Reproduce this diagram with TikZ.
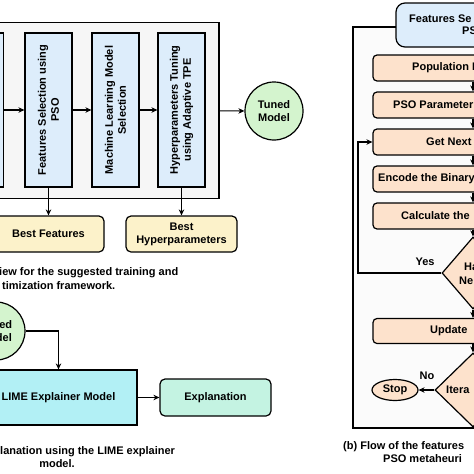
\documentclass[tikz,border=0pt]{standalone}
\usepackage{fontspec}
\setmainfont{Liberation Sans}
\usepackage{tikz}
\usetikzlibrary{arrows.meta,positioning,shapes.geometric,calc}
\definecolor{stageblue}{RGB}{221,237,251}
\definecolor{panelgray}{RGB}{246,246,246}
\definecolor{resultyellow}{RGB}{252,242,202}
\definecolor{modelgreen}{RGB}{212,244,206}
\definecolor{limecyan}{RGB}{178,240,245}
\definecolor{mintgreen}{RGB}{196,243,226}
\definecolor{stepbrown}{RGB}{253,226,204}

\begin{document}
\begin{tikzpicture}[x=1pt,y=-1pt,
  every node/.style={font=\fontsize{11}{13}\selectfont\bfseries},
  arr/.style={-{Stealth[length=6pt,width=5.5pt]}, line width=1.1pt},
  panel/.style={draw, line width=1.2pt, fill=panelgray, inner sep=0pt},
  stage/.style={draw, line width=1.2pt, fill=stageblue, rotate=90, align=center,
    inner sep=0pt, minimum width=154pt, minimum height=47pt},
  result/.style={draw, line width=1.2pt, fill=resultyellow, rounded corners=5pt,
    align=center, inner sep=0pt, minimum height=36pt},
  model/.style={circle, draw, line width=1.2pt, fill=modelgreen, align=center,
    inner sep=0pt, minimum size=58pt},
  stepbox/.style={draw, line width=1.2pt, fill=stepbrown, rounded corners=4pt,
    inner sep=0pt, minimum width=200pt, minimum height=26pt},
  decision/.style={diamond, draw, line width=1.2pt, fill=stepbrown, inner sep=0pt},
  frag/.style={anchor=west, inner sep=0pt}]
\useasboundingbox (0,0) rectangle (474,474);
\clip (0,0) rectangle (474,474);

% (a) training and optimization
\node[panel, minimum width=229pt, minimum height=176pt] (frameA) at (104.5,110.75) {};
\node[stage] (prep) at (-20,110) {};
\node[stage] (fsel) at (48.5,110) {Features Selection using\\PSO};
\node[stage] (mlsel) at (115.5,110) {Machine Learning Model\\Selection};
\node[stage] (hptune) at (181.5,110) {Hyperparameters Tuning\\using Adaptive TPE};
\node[model] (tuned) at (274,111) {Tuned\\Model};
\node[result, minimum width=111pt] (bestfeat) at (48.5,234) {Best Features};
\node[result, minimum width=111pt] (besthyp) at (181.5,234) {Best\\Hyperparameters};
\foreach \a/\b in {prep/fsel, fsel/mlsel, mlsel/hptune}
  \draw[arr] (\a) -- (\b);
\draw[arr] (frameA) -- (tuned);
\draw[arr] (fsel) -- (fsel |- bestfeat.north);
\draw[arr] (hptune) -- (hptune |- besthyp.north);
\node[frag] (capA1) at (-1,273) {iew for the suggested training and};
\node[frag] (capA2) at (2,286) {timization framework.};

% (c) LIME explanation
\node[model] (tuned2) at (-4,331) {Tuned\\Model};
\node[draw, line width=1.2pt, fill=limecyan, minimum width=157pt, minimum height=55pt] (lime) at (58.5,397.5) {LIME Explainer Model};
\node[draw, line width=1.2pt, fill=mintgreen, rounded corners=5pt, minimum width=111pt, minimum height=37pt] (explan) at (215.5,397.5) {Explanation};
\draw[arr] (tuned2.east) -| (lime.north);
\draw[arr] (lime) -- (explan);
\node[frag] (capC1) at (0,452) {lanation using the LIME explainer};
\node (capC2) at (57,464) {model.};

% (b) PSO feature selection flow
\draw[line width=1.2pt, fill=white!97!gray] (353,27) rectangle (600,428);
\node[draw, line width=1.2pt, fill=stageblue, rounded corners=9pt, minimum width=154pt, minimum height=44pt] (psohead) at (473,25) {};
\node[frag] (psoheadA) at (409,19) {Features Se};
\node[frag] (psoheadB) at (462,31) {PS};
\node[stepbox] (popinit) at (473,68) {};
\node[stepbox] (psoparam) at (473,105) {};
\node[stepbox] (getnext) at (473,142) {};
\node[stepbox] (encode) at (473,179) {};
\node[stepbox] (fitness) at (473,216) {};
\node[decision, minimum width=62pt, minimum height=72pt] (hasnext) at (473,273) {};
\node[stepbox, minimum height=25pt] (update) at (473,331) {};
\node[decision, minimum width=76pt, minimum height=74pt] (iter) at (473,390) {};
\node[ellipse, draw, line width=1.2pt, fill=stepbrown, inner sep=0pt, minimum width=46pt, minimum height=21pt] (stop) at (395,390) {Stop};
\node[frag] (popinitT) at (412,68) {Population I};
\node[frag] (psoparamT) at (393,105) {PSO Parameter};
\node[frag] (getnextT) at (426,142) {Get Next};
\node[frag] (encodeT) at (378,179) {Encode the Binary};
\node[frag] (fitnessT) at (401,216) {Calculate the};
\node[frag] (hasnextA) at (464,267) {Ha};
\node[frag] (hasnextB) at (459,281) {Ne};
\node[frag] (updateT) at (430,331) {Update};
\node[frag] (iterT) at (446,390) {Itera};
\foreach \a/\b in {popinit/psoparam, psoparam/getnext, getnext/encode, encode/fitness,
    fitness/hasnext, hasnext/update, update/iter}
  \draw[arr] (\a) -- (\b);
\coordinate (loopc) at (358,273);
\draw[arr] (hasnext.west) -- (loopc) |- (getnext.west);
\node (yeslbl) at (425,262) {Yes};
\draw[arr] (iter.west) -- (stop.east);
\node (nolbl) at (427,376) {No};
\node[frag] (capB1) at (343,447) {(b) Flow of the features};
\node[frag] (capB2) at (383,459) {PSO metaheuri};
\end{tikzpicture}
\end{document}
